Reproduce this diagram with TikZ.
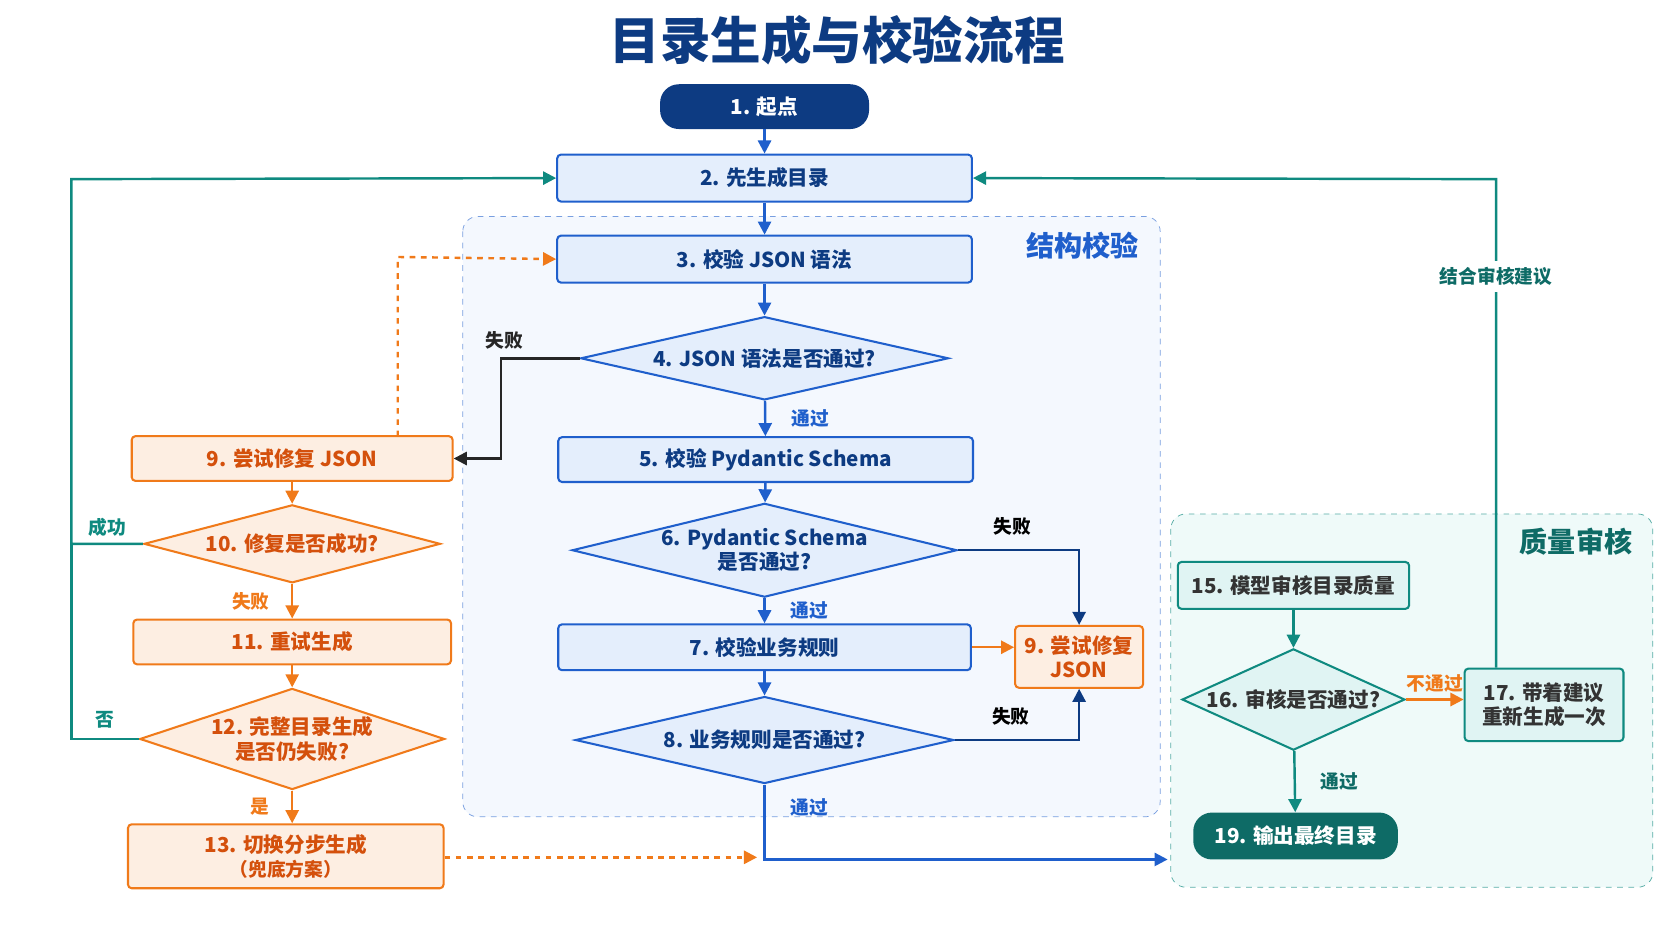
\documentclass[tikz,border=0pt]{standalone}
\usepackage{fontspec}
\setmainfont{Noto Sans CJK SC}
\usetikzlibrary{shapes.geometric, arrows.meta}
\definecolor{navy}{HTML}{0D3B82}
\definecolor{bblue}{HTML}{1F5FCC}
\definecolor{bfill}{HTML}{E4EEFC}
\definecolor{ored}{HTML}{F07A1A}
\definecolor{otext}{HTML}{D4500C}
\definecolor{ofill}{HTML}{FDEEE2}
\definecolor{teal2}{HTML}{0F8A80}
\definecolor{tdark}{HTML}{0E6B66}
\definecolor{tfill}{HTML}{E0F4F3}
\begin{document}
\begin{tikzpicture}[x=0.02cm, y=-0.02cm, every node/.style={font=\bfseries\fontsize{11}{13}\selectfont},
    box/.style={draw=bblue, fill=bfill, rounded corners=2pt, line width=1.1pt, text=navy, align=center},
    dia/.style={diamond, draw=bblue, fill=bfill, line width=1.1pt, inner sep=0pt, text=navy, align=center},
    obox/.style={draw=ored, fill=ofill, rounded corners=2pt, line width=1.1pt, text=otext, align=center},
    odia/.style={diamond, draw=ored, fill=ofill, line width=1.1pt, inner sep=0pt, text=otext, align=center},
    tbox/.style={draw=teal2, fill=tfill, rounded corners=2pt, line width=1.1pt, text=black!80, align=center},
    tdia/.style={diamond, draw=teal2, fill=tfill, line width=1.1pt, inner sep=0pt, text=black!80, align=center},
    pill/.style={rounded corners=10pt, text=white, align=center},
    arr/.style={-{Triangle[length=7pt, width=7pt]}, line width=1.3pt},
    lab/.style={font=\bfseries\fontsize{10}{12}\selectfont}]
    \useasboundingbox (0,0) rectangle (1568,882);

    \node[font=\bfseries\fontsize{27}{30}\selectfont, text=navy] (title) at (785,38) {目录生成与校验流程};

    % regions
    \draw[bblue!60, dashed, fill=bfill!40, rounded corners=8pt] (434,203) rectangle (1088,766);
    \node[text=bblue, font=\bfseries\fontsize{15}{18}\selectfont] (r1) at (1015,230) {结构校验};
    \draw[teal2!70, dashed, fill=tfill!50, rounded corners=8pt] (1098,482) rectangle (1550,832);
    \node[text=tdark, font=\bfseries\fontsize{15}{18}\selectfont] (r2) at (1478,508) {质量审核};

    % main column
    \node[pill, fill=navy, minimum width=3.92cm, minimum height=0.84cm] (n1) at (717,100) {1. 起点};
    \node[box, minimum width=7.78cm, minimum height=0.88cm] (n2) at (717,167) {2. 先生成目录};
    \node[box, minimum width=7.78cm, minimum height=0.88cm] (n3) at (717,243) {3. 校验 JSON 语法};
    \node[dia, minimum width=6.9cm, aspect=3.5] (n4) at (717,336) {4. JSON 语法是否通过?};
    \node[box, minimum width=7.78cm, minimum height=0.84cm] (n5) at (718,431) {5. 校验 Pydantic Schema};
    \node[dia, minimum width=7.16cm, aspect=4.1] (n6) at (717,516) {6. Pydantic Schema\\是否通过?};
    \node[box, minimum width=7.74cm, minimum height=0.86cm] (n7) at (717,607) {7. 校验业务规则};
    \node[dia, minimum width=7.1cm, aspect=3.0] (n8) at (717,694) {8. 业务规则是否通过?};
    \node[obox, minimum width=2.4cm, minimum height=1.16cm] (n9b) at (1012,616) {9. 尝试修复\\JSON};

    % left column
    \node[obox, minimum width=6.02cm, minimum height=0.84cm] (n9) at (274,430) {9. 尝试修复 JSON};
    \node[odia, minimum width=5.56cm, aspect=3.0] (n10) at (274,510) {10. 修复是否成功?};
    \node[obox, minimum width=5.96cm, minimum height=0.84cm] (n11) at (274,602) {11. 重试生成};
    \node[odia, minimum width=5.72cm, aspect=2.86] (n12) at (274,693) {12. 完整目录生成\\是否仍失败?};
    \node[obox, minimum width=5.92cm, minimum height=1.2cm] (n13) at (268,803) {13. 切换分步生成\\{\fontsize{10}{12}\selectfont（兜底方案）}};

    % quality review
    \node[tbox, minimum width=4.34cm, minimum height=0.88cm] (n15) at (1213,549) {15. 模型审核目录质量};
    \node[tdia, minimum width=4.18cm, aspect=2.13] (n16) at (1213,656) {16. 审核是否通过?};
    \node[tbox, minimum width=2.98cm, minimum height=1.36cm] (n17) at (1448,661) {17. 带着建议\\重新生成一次};
    \node[pill, fill=tdark, minimum width=3.84cm, minimum height=0.88cm] (n19) at (1215,784) {19. 输出最终目录};

    \coordinate (p1) at (1095,806);
    \coordinate (p2) at (710,804);

    % connectors
    \draw[arr, bblue] (n1) -- (n2);
    \draw[arr, bblue] (n2) -- (n3);
    \draw[arr, bblue] (n3) -- (n4);
    \draw[arr, bblue] (n4) -- node[right=10pt, lab] {通过} (n5);
    \draw[arr, bblue] (n5) -- (n6);
    \draw[arr, bblue] (n6) -- node[right=10pt, lab] {通过} (n7);
    \draw[arr, bblue] (n7) -- (n8);
    \draw[arr, bblue] (n8.south) -- node[right=10pt, lab, pos=0.3] {通过} (n8.south |- p1) -- (p1);
    \draw[arr, navy] (n6.east) -- node[above=4pt, lab, text=black, pos=0.45] {失败} (n6.east -| n9b) -- (n9b.north);
    \draw[arr, navy] (n8.east) -- node[above=4pt, lab, text=black, pos=0.45] {失败} (n8.east -| n9b) -- (n9b.south);
    \draw[arr, ored] (n7.east) -- (n7.east -| n9b.west);
    \draw[arr, black!85] (n4.west) -- node[above left=1pt, lab, pos=0.6] {失败} (470,336) -- (470,430) -- (n9.east);

    \draw[arr, ored, dashed] (373,409) -- (373,241) -- (n3.west);
    \draw[arr, ored] (n9) -- (n10);
    \draw[arr, ored] (n10) -- node[left=8pt, lab, text=ored] {失败} (n11);
    \draw[arr, ored] (n11) -- (n12);
    \draw[arr, ored] (n12.south) -- node[left=8pt, lab, text=ored] {是} (n12.south |- n13.north);
    \draw[arr, ored, dashed] (n13.east |- p2) -- (p2);

    \draw[arr, teal2] (n10.west) -- node[above, lab, pos=0.5] {成功} (67,510) -- (67,168) -- (n2.west);
    \draw[teal2, line width=1.3pt] (n12.west) -- node[above=2pt, lab, pos=0.5] {否} (67,693) -- (67,510);

    \draw[arr, teal2] (n15) -- (n16);
    \draw[arr, teal2] (n16) -- node[right=10pt, lab, text=tdark] {通过} (n19);
    \draw[arr, ored] (n16.east) -- node[above, lab, text=ored] {不通过} (n17.west |- n16.east);
    \draw[arr, teal2] (1403,626) -- node[fill=white, lab, text=tdark, pos=0.8] {结合审核建议} (1403,168) -- (n2.east);
\end{tikzpicture}
\end{document}
